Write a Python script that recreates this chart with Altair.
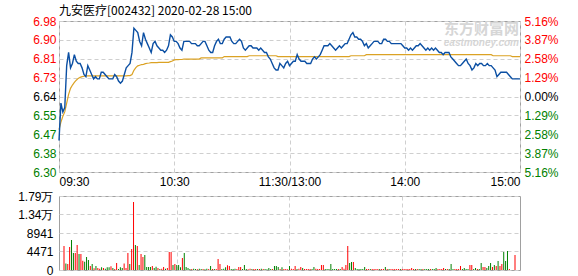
import altair as alt
import pandas as pd

PREV_CLOSE = 6.64
TITLE = "九安医疗[002432] 2020-02-28 15:00"
TIME_TICKS = [0, 60, 120, 180, 240]
TIME_LABELS = ["09:30", "10:30", "11:30/13:00", "14:00", "15:00"]
VOL_TICKS = [0, 4471, 8941, 13412, 17882]
PCT_STEPS = [-0.0516, -0.0387, -0.0258, -0.0129, 0.0, 0.0129, 0.0258, 0.0387, 0.0516]
WATERMARK_CN = "东方财富网"
WATERMARK_EN = "eastmoney.com"

price = [
    6.44, 6.61, 6.57, 6.59, 6.78, 6.84, 6.77, 6.79, 6.83, 6.80,
    6.79, 6.79, 6.77, 6.74, 6.73, 6.78, 6.76, 6.74, 6.72, 6.73,
    6.72, 6.72, 6.75, 6.75, 6.74, 6.73, 6.72, 6.72, 6.72, 6.74,
    6.73, 6.71, 6.70, 6.71, 6.74, 6.77, 6.78, 6.79, 6.84, 6.95,
    6.94, 6.93, 6.89, 6.87, 6.93, 6.90, 6.88, 6.86, 6.84, 6.88,
    6.89, 6.87, 6.86, 6.85, 6.85, 6.84, 6.85, 6.87, 6.92, 6.91,
    6.89, 6.89, 6.88, 6.86, 6.85, 6.89, 6.89, 6.89, 6.89, 6.88,
    6.88, 6.88, 6.87, 6.87, 6.88, 6.89, 6.89, 6.87, 6.85, 6.84,
    6.84, 6.87, 6.89, 6.90, 6.88, 6.88, 6.90, 6.91, 6.91, 6.91,
    6.89, 6.88, 6.88, 6.89, 6.90, 6.89, 6.86, 6.85, 6.86, 6.87,
    6.87, 6.86, 6.86, 6.86, 6.85, 6.86, 6.85, 6.84, 6.84, 6.82,
    6.81, 6.79, 6.77, 6.76, 6.76, 6.79, 6.78, 6.77, 6.79, 6.80,
    6.78, 6.79, 6.80, 6.80, 6.83, 6.81, 6.80, 6.80, 6.80, 6.79,
    6.79, 6.79, 6.81, 6.82, 6.81, 6.82, 6.83, 6.85, 6.87, 6.87,
    6.87, 6.88, 6.87, 6.86, 6.85, 6.86, 6.87, 6.86, 6.87, 6.88,
    6.88, 6.90, 6.92, 6.93, 6.91, 6.91, 6.90, 6.90, 6.89, 6.87,
    6.88, 6.86, 6.87, 6.88, 6.89, 6.89, 6.89, 6.88, 6.88, 6.90,
    6.90, 6.89, 6.89, 6.88, 6.88, 6.88, 6.88, 6.88, 6.88, 6.87,
    6.86, 6.86, 6.85, 6.86, 6.85, 6.86, 6.87, 6.87, 6.88, 6.87,
    6.86, 6.85, 6.86, 6.85, 6.86, 6.85, 6.86, 6.85, 6.84, 6.84,
    6.83, 6.84, 6.84, 6.84, 6.82, 6.81, 6.80, 6.79, 6.78, 6.78,
    6.79, 6.80, 6.81, 6.79, 6.78, 6.76, 6.77, 6.79, 6.78, 6.79,
    6.79, 6.78, 6.78, 6.79, 6.78, 6.78, 6.77, 6.76, 6.73, 6.74,
    6.75, 6.75, 6.75, 6.75, 6.74, 6.73, 6.72, 6.72, 6.72, 6.72,
    6.72,
]

avg_price = [
    6.490, 6.524, 6.550, 6.570, 6.610, 6.650, 6.677, 6.692, 6.704, 6.714,
    6.722, 6.727, 6.730, 6.732, 6.733, 6.734, 6.734, 6.734, 6.734, 6.734,
    6.734, 6.734, 6.734, 6.734, 6.734, 6.734, 6.734, 6.734, 6.734, 6.734,
    6.734, 6.734, 6.734, 6.734, 6.734, 6.734, 6.735, 6.735, 6.740, 6.759,
    6.771, 6.779, 6.782, 6.785, 6.786, 6.789, 6.791, 6.792, 6.794, 6.794,
    6.794, 6.794, 6.795, 6.795, 6.795, 6.795, 6.795, 6.795, 6.798, 6.801,
    6.806, 6.807, 6.807, 6.808, 6.808, 6.810, 6.810, 6.810, 6.810, 6.810,
    6.810, 6.810, 6.810, 6.810, 6.815, 6.815, 6.815, 6.815, 6.815, 6.815,
    6.815, 6.815, 6.815, 6.815, 6.815, 6.815, 6.821, 6.821, 6.821, 6.821,
    6.821, 6.821, 6.821, 6.821, 6.821, 6.821, 6.821, 6.821, 6.821, 6.825,
    6.825, 6.825, 6.825, 6.825, 6.825, 6.825, 6.825, 6.825, 6.825, 6.825,
    6.825, 6.825, 6.825, 6.825, 6.821, 6.821, 6.821, 6.821, 6.821, 6.821,
    6.821, 6.821, 6.821, 6.821, 6.821, 6.821, 6.821, 6.821, 6.821, 6.821,
    6.821, 6.821, 6.821, 6.821, 6.821, 6.821, 6.821, 6.821, 6.821, 6.821,
    6.821, 6.821, 6.821, 6.821, 6.821, 6.821, 6.821, 6.821, 6.821, 6.821,
    6.821, 6.821, 6.825, 6.825, 6.825, 6.825, 6.825, 6.825, 6.825, 6.825,
    6.830, 6.830, 6.830, 6.830, 6.830, 6.830, 6.830, 6.830, 6.830, 6.830,
    6.830, 6.830, 6.830, 6.830, 6.830, 6.830, 6.830, 6.830, 6.830, 6.830,
    6.830, 6.830, 6.830, 6.830, 6.830, 6.830, 6.830, 6.830, 6.830, 6.830,
    6.830, 6.830, 6.830, 6.830, 6.830, 6.830, 6.830, 6.830, 6.830, 6.830,
    6.830, 6.830, 6.830, 6.830, 6.830, 6.830, 6.830, 6.830, 6.830, 6.830,
    6.830, 6.830, 6.830, 6.830, 6.830, 6.830, 6.830, 6.830, 6.830, 6.830,
    6.830, 6.830, 6.830, 6.830, 6.830, 6.830, 6.825, 6.825, 6.825, 6.825,
    6.825, 6.825, 6.825, 6.825, 6.825, 6.825, 6.821, 6.821, 6.821, 6.821,
    6.821,
]

volume = [
    5800, 1600, 1450, 5560, 7250, 4100, 4100, 6040, 3870, 3870,
    2250, 2000, 3140, 2420, 970, 1450, 400, 970, 480, 320,
    640, 480, 300, 640, 640, 900, 480, 250, 1690, 250,
    640, 480, 1600, 480, 4100, 1450, 5075, 16430, 6040, 5800,
    1200, 3870, 3140, 3630, 720, 720, 720, 970, 480, 800,
    480, 250, 320, 720, 320, 480, 4350, 4350, 1200, 1450,
    1200, 1200, 640, 2900, 4100, 720, 480, 260, 220, 300,
    240, 200, 280, 230, 260, 210, 300, 240, 970, 220,
    260, 230, 2660, 1450, 240, 280, 640, 1130, 970, 220,
    250, 300, 230, 720, 720, 260, 1200, 240, 210, 280,
    230, 250, 270, 220, 240, 300, 230, 260, 210, 480,
    250, 230, 970, 970, 720, 260, 640, 230, 250, 210,
    970, 320, 250, 970, 240, 320, 720, 480, 230, 250,
    220, 240, 260, 720, 320, 230, 250, 1200, 1200, 240,
    220, 260, 1450, 250, 230, 240, 270, 220, 720, 320,
    1200, 5800, 1690, 1930, 1930, 480, 250, 230, 260, 240,
    720, 250, 220, 240, 260, 230, 250, 270, 220, 240,
    260, 720, 230, 250, 240, 220, 260, 230, 250, 240,
    230, 260, 240, 220, 250, 480, 230, 260, 240, 250,
    220, 240, 260, 230, 250, 240, 220, 260, 480, 230,
    250, 240, 480, 230, 260, 240, 1450, 250, 230, 260,
    240, 970, 230, 480, 250, 240, 1200, 1200, 260, 480,
    240, 250, 1690, 720, 720, 480, 970, 1690, 720, 1200,
    970, 2170, 970, 1450, 4350, 2170, 4590, 250, 0, 0,
    3630,
]

direction_rows = [
    "uduudduudu", "udddududuu", "duddduduud", "dduuuduudu", "duuddddudd",
    "uduuduuudu", "ddduddddud", "dudduddudu", "duuuddduud", "dduuuddduu",
    "duudududdd", "duddduduuu", "duuuduuduu", "uudduuuuud", "dddddduduu",
    "uudduddddd", "duuduuuudu", "ududuuuuud", "uuuuuuudud", "dudddudddu",
    "uuududdduu", "uudddduudd", "udduudddud", "uduuddduuu", "u",
]
direction = ["up" if c == "u" else "down" for c in "".join(direction_rows)]

minutes = list(range(len(price)))
df = pd.DataFrame({
    "t": minutes,
    "price": price,
    "avg": avg_price,
    "vol": volume,
    "dir": direction,
})

LABEL_FONT = "Liberation Sans"
GRID_COLOR = "#cfcfcf"
GRID_DASH = [4, 3]
RED = "#ff0000"
GREEN = "#008000"

y_domain = [PREV_CLOSE * (1 + PCT_STEPS[0]), PREV_CLOSE * (1 + PCT_STEPS[-1])]
y_ticks = [PREV_CLOSE * (1 + s) for s in PCT_STEPS]
price_scale = alt.Scale(domain=y_domain, nice=False, zero=False)

label_color_cond = {
    "condition": [
        {"test": f"datum.value > {PREV_CLOSE + 0.005}", "value": RED},
        {"test": f"datum.value < {PREV_CLOSE - 0.005}", "value": GREEN},
    ],
    "value": "#000000",
}

time_label_js = "[" + ",".join(f"'{s}'" for s in TIME_LABELS) + "]"

x_price = alt.X(
    "t:Q",
    scale=alt.Scale(domain=[0, 240], nice=False, zero=False),
    axis=alt.Axis(
        values=TIME_TICKS,
        labelExpr=f"{time_label_js}[round(datum.value / 60)]",
        labelFlush=True,
        labelOverlap=False,
        grid=True,
        gridColor=GRID_COLOR,
        gridDash=GRID_DASH,
        ticks=False,
        domain=False,
        labelPadding=4,
        labelFont=LABEL_FONT,
        labelFontSize=12,
        labelColor="#000000",
        title=None,
    ),
)

left_axis = alt.Axis(
    orient="left",
    values=y_ticks,
    labelExpr="format(datum.value, '.2f')",
    grid=True,
    gridColor=GRID_COLOR,
    gridDash=GRID_DASH,
    ticks=False,
    domain=False,
    labelPadding=3,
    labelFont=LABEL_FONT,
    labelFontSize=12,
    labelColor=label_color_cond,
    minExtent=58,
    labelOverlap=False,
    title=None,
)

right_axis = alt.Axis(
    orient="right",
    values=y_ticks,
    labelExpr=f"format(abs(datum.value / {PREV_CLOSE} - 1) * 100, '.2f') + '%'",
    grid=False,
    ticks=False,
    domain=False,
    labelPadding=4,
    labelFont=LABEL_FONT,
    labelFontSize=12,
    labelColor=label_color_cond,
    labelOverlap=False,
    title=None,
)

avg_line = alt.Chart(df).mark_line(color="#dba224", strokeWidth=1.2, interpolate="linear").encode(
    x=x_price,
    y=alt.Y("avg:Q", scale=price_scale, axis=right_axis),
)

price_line = alt.Chart(df).mark_line(color="#0b4fa3", strokeWidth=1.4, interpolate="linear").encode(
    x=x_price,
    y=alt.Y("price:Q", scale=price_scale, axis=left_axis),
)

wm_cn = alt.Chart(pd.DataFrame({"txt": [WATERMARK_CN]})).mark_text(
    align="right", baseline="middle", font="Noto Sans CJK SC", fontSize=15,
    fontWeight="bold", color="#d6d6d6",
).encode(text="txt:N", x=alt.value(460), y=alt.value(8))

wm_en = alt.Chart(pd.DataFrame({"txt": [WATERMARK_EN]})).mark_text(
    align="right", baseline="middle", font=LABEL_FONT, fontSize=10,
    fontWeight="bold", fontStyle="italic", color="#d6d6d6",
).encode(text="txt:N", x=alt.value(460), y=alt.value(22))

price_panel = alt.layer(wm_cn, wm_en, avg_line, price_line).resolve_axis(y="independent").properties(
    width=461,
    height=151,
    title=alt.TitleParams(
        text=TITLE, anchor="start", frame="group", font="Noto Sans CJK SC",
        fontSize=12, fontWeight="normal", color="#000000", offset=-3,
    ),
)

vol_panel = alt.Chart(df).mark_bar(size=1).encode(
    x=alt.X(
        "t:Q",
        scale=alt.Scale(domain=[0, 240], nice=False, zero=False),
        axis=alt.Axis(
            values=[60, 120, 180], labels=False, ticks=False, domain=False,
            grid=True, gridColor=GRID_COLOR, gridDash=GRID_DASH, title=None,
        ),
    ),
    y=alt.Y(
        "vol:Q",
        scale=alt.Scale(domain=[0, VOL_TICKS[-1]], nice=False),
        axis=alt.Axis(
            values=VOL_TICKS,
            labelExpr="datum.value >= 10000 ? format(datum.value / 10000, '.2f') + '万' : format(datum.value, 'd')",
            grid=True,
            gridColor=GRID_COLOR,
            gridDash=GRID_DASH,
            ticks=False,
            domain=False,
            labelPadding=6,
            labelFont=LABEL_FONT,
            labelFontSize=12,
            labelColor="#000000",
            minExtent=58,
            labelOverlap=False,
            title=None,
        ),
    ),
    color=alt.Color("dir:N", scale=alt.Scale(domain=["up", "down"], range=[RED, GREEN]), legend=None),
).properties(width=461, height=74)

chart = alt.vconcat(price_panel, vol_panel, spacing=24, bounds="flush").configure_view(
    stroke="#a0a0a0", strokeWidth=1
).properties(
    padding={"left": 0, "top": 4, "right": 0, "bottom": 0},
    background="white",
)

chart.save("out.html", embed_options={"renderer": "svg", "actions": False})
